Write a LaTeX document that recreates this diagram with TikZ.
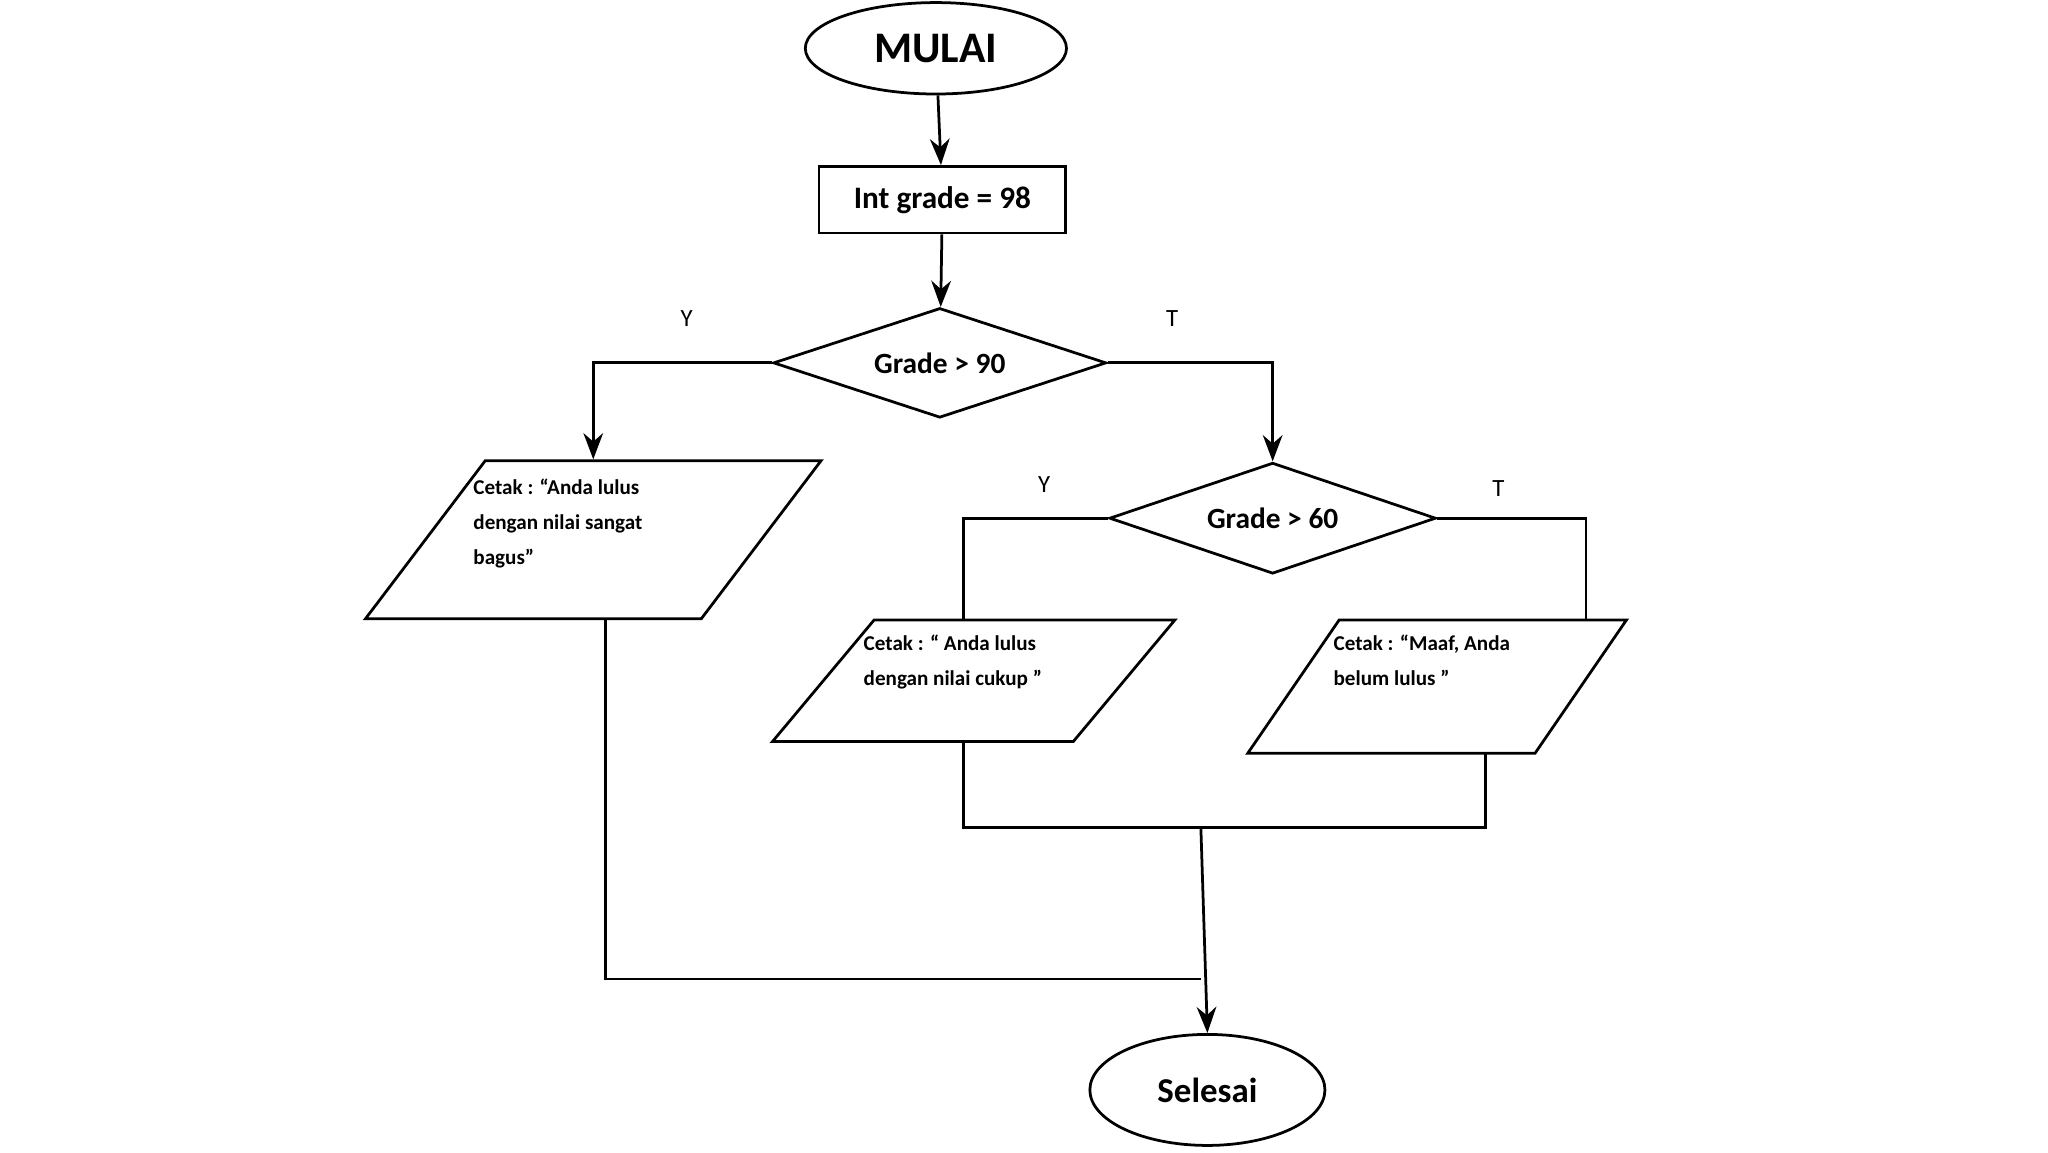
\documentclass[tikz,border=0pt]{standalone}
\usepackage{fontspec}
\setmainfont{Carlito}
\usetikzlibrary{shapes.geometric,arrows.meta}
\tikzset{>=Stealth,
  terminal/.style={ellipse, draw, semithick, font=\bfseries\fontsize{9.5}{11}\selectfont},
  process/.style={rectangle, draw, semithick, font=\bfseries\fontsize{6.8}{8}\selectfont},
  decision/.style={diamond, draw, semithick, aspect=3, inner sep=0pt, font=\bfseries\fontsize{6.4}{8}\selectfont},
  io/.style={trapezium, trapezium stretches=true, draw, semithick},
  iotext/.style={anchor=north west, align=left, inner sep=0pt, font=\bfseries\fontsize{4.6}{7.6}\selectfont},
  branch/.style={font=\fontsize{5.4}{6}\selectfont},
  line/.style={draw, semithick},
  arrow/.style={draw, semithick, ->}}
\begin{document}
\begin{tikzpicture}[x=0.01cm, y=-0.01cm]
   \useasboundingbox (0,0) rectangle (1569,882.6);

   \node[terminal, minimum width=2cm, minimum height=0.7cm] (mulai) at (717,37) {MULAI};
   \node[process, minimum width=1.89cm, minimum height=0.51cm] (init) at (722,153) {Int grade = 98};

   % Decisions
   \node[decision, minimum width=2.55cm, minimum height=0.84cm] (dec1) at (720,278) {Grade > 90};
   \node[decision, minimum width=2.5cm, minimum height=0.85cm] (dec2) at (975,397) {Grade > 60};

   \node[branch] (y1) at (526,244) {Y};
   \node[branch] (t1) at (898,244) {T};
   \node[branch] (y2) at (800,371) {Y};
   \node[branch] (t2) at (1148,374) {T};

   % Outputs
   \node[io, trapezium left angle=61, trapezium right angle=119, minimum width=3.49cm, minimum height=1.21cm] (out1) at (454.5,413.5) {};
   \node[io, trapezium left angle=63, trapezium right angle=117, minimum width=3.08cm, minimum height=0.93cm] (out2) at (746,521.5) {};
   \node[io, trapezium left angle=65, trapezium right angle=115, minimum width=2.9cm, minimum height=1.02cm] (out3) at (1101,526) {};

   \node[iotext] (txt1) at (362,366) {Cetak : “Anda lulus\\dengan nilai sangat\\bagus”};
   \node[iotext] (txt2) at (661,486) {Cetak : “ Anda lulus\\dengan nilai cukup ”};
   \node[iotext] (txt3) at (1021,486) {Cetak : “Maaf, Anda\\belum lulus ”};

   \node[terminal, font=\bfseries\fontsize{7.6}{9}\selectfont, minimum width=1.8cm, minimum height=0.85cm] (selesai) at (925,835) {Selesai};

   \coordinate (join2) at (920,634);
   \coordinate (join1) at (920,750);

   %% Lines
   \path[arrow] (mulai) -- (init);
   \path[arrow] (init) -- (dec1);
   \path[arrow] (dec1.west) -| (out1.north);
   \path[arrow] (dec1.east) -| (dec2.north);
   \path[line] (dec2.west) -| (738,475);
   \path[line] (dec2.east) -| (1215,475);
   \path[line] (738,568) |- (join2) -| (1138,577);
   \path[line] (464,474) |- (join1);
   \path[arrow] (join2) -- (selesai.north);
\end{tikzpicture}
\end{document}
